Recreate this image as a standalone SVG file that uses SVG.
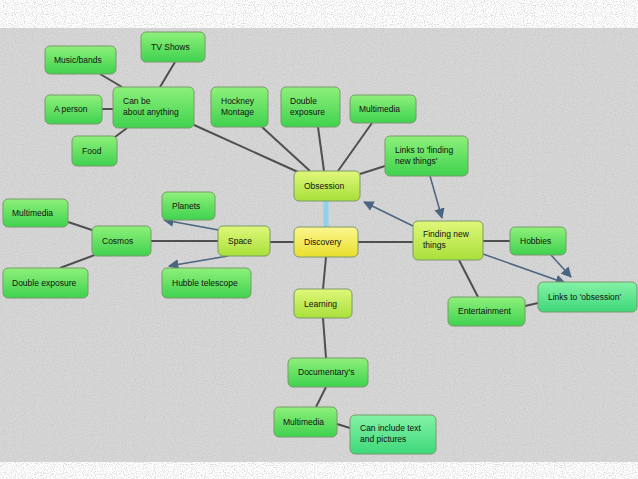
<svg xmlns="http://www.w3.org/2000/svg" width="638" height="479" viewBox="0 0 638 479">
<defs>
<filter id="noise"><feTurbulence type="fractalNoise" baseFrequency="0.9" numOctaves="1" seed="3"/><feColorMatrix type="matrix" values="0 0 0 0 0.55  0 0 0 0 0.55  0 0 0 0 0.55  0 0 0 -2.2 1.2"/></filter>
<linearGradient id="gG" x1="0" y1="0" x2="0" y2="1"><stop offset="0" stop-color="#8ef07a"/><stop offset="1" stop-color="#3fd24f"/></linearGradient>
<linearGradient id="gL" x1="0" y1="0" x2="0" y2="1"><stop offset="0" stop-color="#e0f77a"/><stop offset="1" stop-color="#a8e03a"/></linearGradient>
<linearGradient id="gY" x1="0" y1="0" x2="0" y2="1"><stop offset="0" stop-color="#fbf690"/><stop offset="1" stop-color="#e9df2c"/></linearGradient>
<linearGradient id="gT" x1="0" y1="0" x2="0" y2="1"><stop offset="0" stop-color="#84f2a6"/><stop offset="1" stop-color="#3ed87a"/></linearGradient>
<marker id="ar" viewBox="0 0 10 10" refX="9" refY="5" markerWidth="7" markerHeight="7" orient="auto"><path d="M0,0 L10,5 L0,10 z" fill="#4a6580"/></marker>
</defs>
<style>
.n rect{stroke:#7a9a6a;stroke-width:1;rx:5}
.g rect{fill:url(#gG)}.l rect{fill:url(#gL)}.y rect{fill:url(#gY)}.t rect{fill:url(#gT)}
text{font-family:"Liberation Sans",Arial,sans-serif;font-size:8.5px;fill:#111}
.c line{stroke:#4f4f4f;stroke-width:2}
.c line.a{stroke:#4a6580;stroke-width:1.5;marker-end:url(#ar)}
</style>
<rect width="638" height="479" fill="#fff"/>
<rect x="0" y="28" width="638" height="434" fill="#d6d6d6"/>
<rect x="0" y="28" width="638" height="434" filter="url(#noise)"/>
<g class="c">
<line x1="326" y1="201" x2="326" y2="227" style="stroke:#8fd0ea;stroke-width:5"/>
<line x1="175" y1="62" x2="160" y2="87"/>
<line x1="100" y1="74" x2="122" y2="87"/>
<line x1="102" y1="109" x2="113" y2="109"/>
<line x1="115" y1="137" x2="127" y2="128"/>
<line x1="194" y1="125" x2="298" y2="172"/>
<line x1="262" y1="127" x2="310" y2="171"/>
<line x1="318" y1="127" x2="324" y2="171"/>
<line x1="372" y1="123" x2="338" y2="171"/>
<line x1="385" y1="166" x2="360" y2="174"/>
<line x1="358" y1="242" x2="413" y2="242"/>
<line x1="483" y1="241" x2="510" y2="241"/>
<line x1="459" y1="260" x2="478" y2="297"/>
<line x1="525" y1="306" x2="538" y2="303"/>
<line x1="326" y1="257" x2="323" y2="289"/>
<line x1="323" y1="318" x2="326" y2="358"/>
<line x1="326" y1="387" x2="316" y2="407"/>
<line x1="337" y1="424" x2="350" y2="428"/>
<line x1="270" y1="242" x2="294" y2="242"/>
<line x1="151" y1="241" x2="218" y2="241"/>
<line x1="68" y1="222" x2="95" y2="231"/>
<line x1="60" y1="268" x2="100" y2="253"/>
<line class="a" x1="430" y1="176" x2="442" y2="218"/>
<line class="a" x1="413" y1="226" x2="364" y2="202"/>
<line class="a" x1="483" y1="254" x2="565" y2="283"/>
<line class="a" x1="551" y1="255" x2="571" y2="277"/>
<line class="a" x1="224" y1="231" x2="164" y2="220"/>
<line class="a" x1="228" y1="256" x2="169" y2="266"/>
</g>
<g id="tv" class="n g"><rect x="141" y="32" width="64" height="30"/><text x="151" y="50">TV Shows</text></g>
<g id="music" class="n g"><rect x="45" y="46" width="71" height="28"/><text x="54" y="63">Music/bands</text></g>
<g id="canbe" class="n g"><rect x="113" y="87" width="81" height="41"/><text x="123" y="104">Can be</text><text x="123" y="115">about anything</text></g>
<g id="person" class="n g"><rect x="45" y="95" width="57" height="29"/><text x="54" y="112">A person</text></g>
<g id="food" class="n g"><rect x="72" y="136" width="45" height="30"/><text x="82" y="154">Food</text></g>
<g id="hockney" class="n g"><rect x="211" y="87" width="57" height="40"/><text x="221" y="104">Hockney</text><text x="221" y="115">Montage</text></g>
<g id="dexp" class="n g"><rect x="281" y="87" width="59" height="40"/><text x="290" y="104">Double</text><text x="290" y="115">exposure</text></g>
<g id="mm1" class="n g"><rect x="350" y="95" width="66" height="28"/><text x="359" y="112">Multimedia</text></g>
<g id="lfnt" class="n g"><rect x="385" y="136" width="83" height="40"/><text x="395" y="153">Links to 'finding</text><text x="395" y="164">new things'</text></g>
<g id="obs" class="n l"><rect x="294" y="171" width="66" height="30"/><text x="304" y="189">Obsession</text></g>
<g id="disc" class="n y"><rect x="294" y="227" width="64" height="30"/><text x="304" y="245">Discovery</text></g>
<g id="fnt" class="n l"><rect x="413" y="221" width="70" height="39"/><text x="423" y="237">Finding new</text><text x="423" y="248">things</text></g>
<g id="hob" class="n g"><rect x="510" y="227" width="56" height="28"/><text x="520" y="244">Hobbies</text></g>
<g id="lobs" class="n t"><rect x="538" y="282" width="99" height="30"/><text x="548" y="300">Links to 'obsession'</text></g>
<g id="ent" class="n g"><rect x="448" y="297" width="77" height="29"/><text x="458" y="314">Entertainment</text></g>
<g id="learn" class="n l"><rect x="294" y="289" width="58" height="29"/><text x="304" y="307">Learning</text></g>
<g id="planets" class="n g"><rect x="162" y="192" width="53" height="28"/><text x="172" y="209">Planets</text></g>
<g id="mm2" class="n g"><rect x="3" y="199" width="65" height="28"/><text x="12" y="216">Multimedia</text></g>
<g id="cosmos" class="n g"><rect x="92" y="226" width="59" height="30"/><text x="102" y="244">Cosmos</text></g>
<g id="space" class="n l"><rect x="218" y="226" width="52" height="30"/><text x="228" y="244">Space</text></g>
<g id="dexp2" class="n g"><rect x="3" y="268" width="85" height="30"/><text x="12" y="286">Double exposure</text></g>
<g id="hubble" class="n g"><rect x="162" y="268" width="89" height="30"/><text x="172" y="286">Hubble telescope</text></g>
<g id="doc" class="n g"><rect x="288" y="358" width="80" height="29"/><text x="298" y="375">Documentary's</text></g>
<g id="mm3" class="n g"><rect x="274" y="407" width="63" height="30"/><text x="283" y="425">Multimedia</text></g>
<g id="cit" class="n t"><rect x="350" y="415" width="86" height="39"/><text x="360" y="431">Can include text</text><text x="360" y="442">and pictures</text></g>
</svg>
